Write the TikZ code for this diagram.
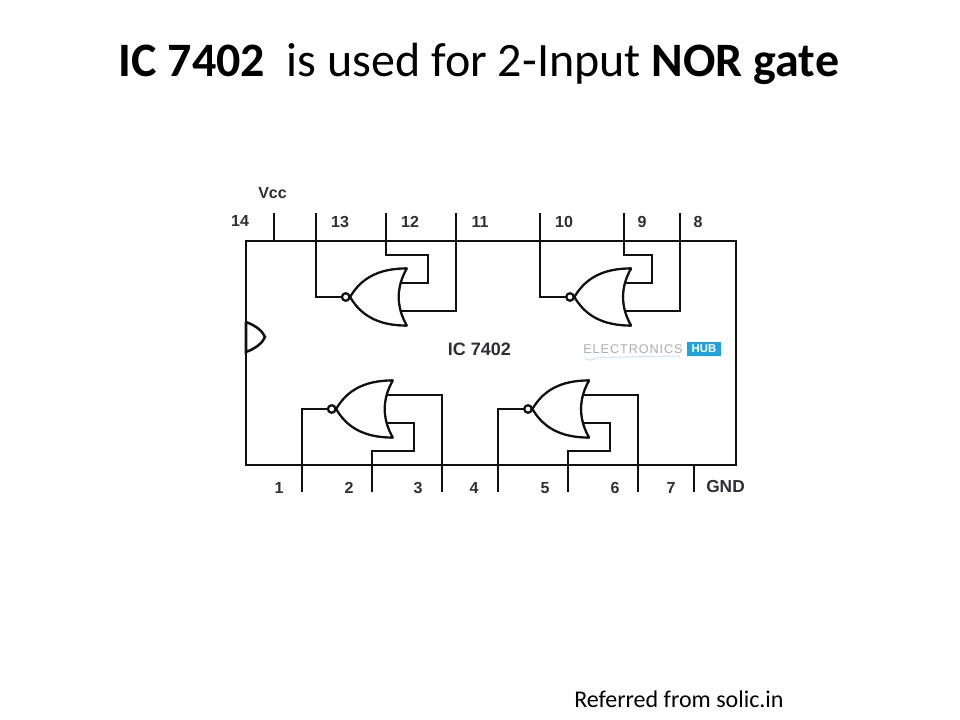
\documentclass[tikz,border=0pt]{standalone}
\usepackage{fontspec}
\setmainfont{Carlito}
\newfontfamily\pinfont{Liberation Sans}
\definecolor{wire}{HTML}{101010}
\definecolor{pinlabel}{HTML}{2E2E36}
\definecolor{markgray}{HTML}{A9AEB2}
\definecolor{markblue}{HTML}{1FA3DC}
\definecolor{markswoosh}{HTML}{CBE6F2}
\tikzset{
  x=0.75pt,y=-0.75pt,
  wireline/.style={draw=wire,line width=1.9pt,line join=miter},
  gateline/.style={draw=wire,line width=1.6pt,line join=round},
  pinlbl/.style={text=pinlabel,font=\pinfont\bfseries\fontsize{12}{14}\selectfont,inner sep=0pt},
  titletext/.style={text=black,font=\fontsize{36}{40}\selectfont,inner sep=0pt},
  foot/.style={text=black,font=\fontsize{18}{21}\selectfont,inner sep=0pt},
  norgate/.pic={
    \draw[gateline,fill=white] (4.5,0) .. controls (15,-18) and (32,-28.5) .. (61,-28.5)
       .. controls (50.3,-10) and (50.3,10) .. (61,28.5)
       .. controls (32,28.5) and (15,18) .. (4.5,0) -- cycle;
    \draw[gateline,fill=white] (0,0) circle[radius=3.7];
    \coordinate (-bub) at (-3.7,0);
    \coordinate (-a) at (55,-14);
    \coordinate (-b) at (55,14);
  }
}
\begin{document}
\begin{tikzpicture}
\useasboundingbox (0,0) rectangle (960,720);
% package outline
\coordinate (tl) at (246,241);
\coordinate (tr) at (736,241);
\coordinate (br) at (736,465);
\coordinate (bl) at (246,465);
\coordinate (n1) at (246,322);
\coordinate (n2) at (246,352);
\draw[wireline] (n1) -- (tl) -- (tr) -- (br) -- (bl) -- (n2);
\draw[wireline] (n1) .. controls (257,326) and (263,332) .. (265,337) .. controls (263,342) and (257,348) .. (n2) -- (n1);
% pin ends
\foreach \n/\x in {vcc/274,p13/316,p12/386,p11/456,p10/540,p9/624,p8/680}
  {\coordinate (\n) at (\x,213); \coordinate (\n b) at (\x,241);}
\foreach \n/\x in {p1/302,p2/372,p3/442,p4/498,p5/568,p6/638,gnd/694}
  {\coordinate (\n) at (\x,492); \coordinate (\n b) at (\x,465);}
\draw[wireline] (vcc) -- (vccb);
\draw[wireline] (gnd) -- (gndb);
% gates
\pic (g1) at (345.7,297) {norgate};
\pic (g2) at (570,297) {norgate};
\pic (g3) at (331.7,409) {norgate};
\pic (g4) at (528,409) {norgate};
% gate 1
\draw[wireline] (p13) |- (g1-bub);
\draw[wireline] (p12) -- (386,255) -- (428,255) -- (428,283) -- (g1-a);
\draw[wireline] (p11) |- (g1-b);
% gate 2
\draw[wireline] (p10) |- (g2-bub);
\draw[wireline] (p9) -- (624,255) -- (652,255) -- (652,283) -- (g2-a);
\draw[wireline] (p8) |- (g2-b);
% gate 3
\draw[wireline] (p1) |- (g3-bub);
\draw[wireline] (p2) -- (372,451) -- (414,451) -- (414,423) -- (g3-b);
\draw[wireline] (p3) |- (g3-a);
% gate 4
\draw[wireline] (p4) |- (g4-bub);
\draw[wireline] (p5) -- (568,451) -- (610,451) -- (610,423) -- (g4-b);
\draw[wireline] (p6) |- (g4-a);
% redraw gate bodies over wire ends
\pic (h1) at (345.7,297) {norgate};
\pic (h2) at (570,297) {norgate};
\pic (h3) at (331.7,409) {norgate};
\pic (h4) at (528,409) {norgate};
% labels
\node[pinlbl] (lvcc) at (272.5,193) {Vcc};
\node[pinlbl] (l14) at (240,221) {14};
\node[pinlbl] (l13) at (340,222) {13};
\node[pinlbl] (l12) at (410,222) {12};
\node[pinlbl] (l11) at (480,222) {11};
\node[pinlbl] (l10) at (564,222) {10};
\node[pinlbl] (l9) at (642,222) {9};
\node[pinlbl] (l8) at (698,222) {8};
\node[pinlbl] (l1) at (279,487.5) {1};
\node[pinlbl] (l2) at (349,488) {2};
\node[pinlbl] (l3) at (418,488) {3};
\node[pinlbl] (l4) at (474,488) {4};
\node[pinlbl] (l5) at (545,488) {5};
\node[pinlbl] (l6) at (615,488) {6};
\node[pinlbl] (l7) at (671,488) {7};
\node[pinlbl,font=\pinfont\bfseries\fontsize{13}{15}\selectfont] (lgnd) at (725.5,487) {GND};
\node[pinlbl,font=\pinfont\bfseries\fontsize{13.5}{15}\selectfont] (lic) at (479.5,349) {IC 7402};
% watermark
\node[inner sep=0pt,anchor=west,text=markgray,font=\pinfont\fontsize{9.5}{11}\selectfont] (mk) at (583,349) {E\kern.7pt L\kern.7pt E\kern.7pt C\kern.7pt T\kern.7pt R\kern.7pt O\kern.7pt N\kern.7pt I\kern.7pt C\kern.7pt S};
\node[fill=markblue,text=white,minimum width=25.5pt,minimum height=10.5pt,inner sep=0pt,font=\pinfont\bfseries\fontsize{8.5}{10}\selectfont] (mkhub) at (704,349) {HUB};
\draw[markswoosh,line width=0.8pt] (585,358) .. controls (590,363) and (593,358) .. (600,357.5) -- (680,356);
% text
\node[titletext] (title) at (479,63.5) {\textbf{IC 7402}\ \ is used for 2-Input \textbf{NOR gate}};
\node[foot,anchor=west] (footer) at (574,699) {Referred from solic.in};
\end{tikzpicture}
\end{document}
